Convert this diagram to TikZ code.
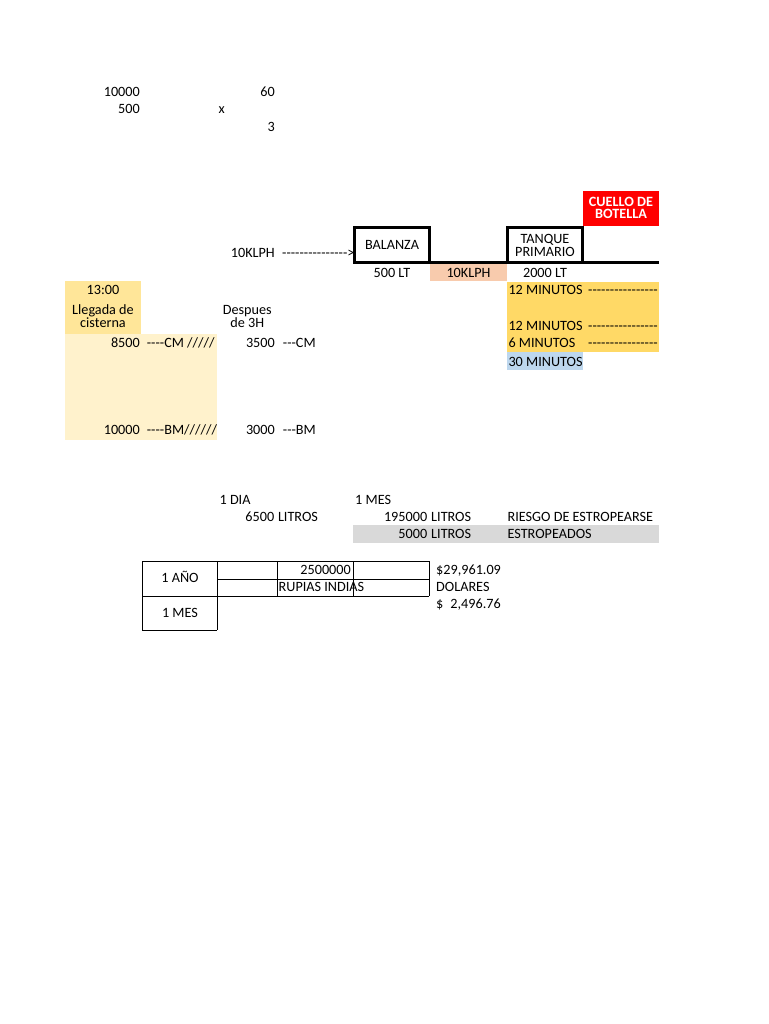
\documentclass[tikz,border=0pt]{standalone}
\usepackage{fontspec}
\setmainfont{Carlito}[Ligatures=TeXOff]
\usepackage{xcolor}
\definecolor{cisternatop}{HTML}{FFE699}
\definecolor{cisternabody}{HTML}{FFF2CC}
\definecolor{minutosfill}{HTML}{FFD966}
\definecolor{treintafill}{HTML}{BDD7EE}
\definecolor{caudalfill}{HTML}{F8CBAD}
\definecolor{perdidafill}{HTML}{D9D9D9}
\definecolor{cuellofill}{HTML}{FF0000}

\begin{document}
\begin{tikzpicture}[x=1pt, y=-1pt,
  cell/.style={inner sep=0pt, yshift=-4.6pt, font=\fontsize{14.2}{16}\selectfont},
  lcell/.style={cell, anchor=base west},
  rcell/.style={cell, anchor=base east},
  ccell/.style={cell, anchor=base},
  equipo/.style={draw, line width=2.6pt, outer sep=0pt, inner sep=0pt, minimum width=75pt, minimum height=35pt, align=center, font=\fontsize{14.2}{12.9}\selectfont},
  gridline/.style={line width=0.9pt}]
\useasboundingbox (0,0) rectangle (768,1024);

\fill[cisternatop] (65,281) rectangle (141,334);
\fill[cisternabody] (65,334) rectangle (217,440);
\fill[minutosfill] (507,282) rectangle (659,352);
\fill[treintafill] (507,352) rectangle (583,370);
\fill[caudalfill] (430,264) rectangle (507,281);
\fill[perdidafill] (353,525) rectangle (659,543);
\fill[cuellofill] (583,191) rectangle (659,226);

\node[rcell] (a1) at (140,91.7) {10000};
\node[rcell] (a2) at (140,109.3) {500};
\node[rcell] (b1) at (275,91.7) {60};
\node[ccell] (bx) at (221.7,109.3) {x};
\node[rcell] (b3) at (275,127.3) {3};

\node[ccell, text=white, font=\fontsize{14.2}{16}\bfseries] (cuello1) at (621,201.7) {CUELLO DE};
\node[ccell, text=white, font=\fontsize{14.2}{16}\bfseries] (cuello2) at (621,214.3) {BOTELLA};

\node[equipo] (balanza) at (392,245) {BALANZA};
\node[equipo] (tanque) at (545,245) {TANQUE\\PRIMARIO};
\coordinate (fin) at (659,262.5);
\draw[line width=2.6pt] (balanza.south east) -- (tanque.south west);
\draw[line width=2.6pt] (tanque.south east) -- (fin);

\node[rcell] (entrada) at (275,253.3) {10KLPH};
\node[lcell] (flecha) at (282,253.3) {--------------->};

\node[ccell] (capbal) at (392,272.7) {500 LT};
\node[ccell] (caudal) at (468.5,272.7) {10KLPH};
\node[ccell] (captan) at (545,272.7) {2000 LT};

\node[ccell] (hora) at (103,290) {13:00};
\node[ccell] (llegada1) at (103,310) {Llegada de};
\node[ccell] (llegada2) at (103,322.7) {cisterna};
\node[ccell] (despues1) at (247.3,310) {Despues};
\node[ccell] (despues2) at (247.3,323) {de 3H};

\node[lcell] (min1) at (508.3,290) {12 MINUTOS};
\node[lcell] (raya1) at (588,290) {----------------};
\node[lcell] (min2) at (508.3,325.7) {12 MINUTOS};
\node[lcell] (raya2) at (588,325.7) {----------------};
\node[lcell] (min3) at (508.3,343.3) {6 MINUTOS};
\node[lcell] (raya3) at (588,343.3) {----------------};
\node[lcell] (min4) at (508.3,361.7) {30 MINUTOS};

\node[rcell] (cm1) at (140,343.3) {8500};
\node[lcell] (cm2) at (146.7,343.3) {----CM /////};
\node[rcell] (cm3) at (275,343.3) {3500};
\node[lcell] (cm4) at (282.7,343.3) {---CM};
\node[rcell] (bm1) at (140,430) {10000};
\node[lcell] (bm2) at (146.7,430) {----BM//////};
\node[rcell] (bm3) at (275,430) {3000};
\node[lcell] (bm4) at (282.7,430) {---BM};

\node[lcell] (dia) at (219.4,499.5) {1 DIA};
\node[lcell] (mes) at (355,499.5) {1 MES};
\node[rcell] (litdia) at (274.4,517) {6500};
\node[lcell] (litdiau) at (277.8,517) {LITROS};
\node[rcell] (litmes) at (427.4,517) {195000};
\node[lcell] (litmesu) at (431,517) {LITROS};
\node[lcell] (riesgo) at (507.4,517) {RIESGO DE ESTROPEARSE};
\node[rcell] (perd) at (427.4,534) {5000};
\node[lcell] (perdu) at (431,534) {LITROS};
\node[lcell] (estrop) at (507.4,534) {ESTROPEADOS};

\draw[gridline] (142,561) -- (429,561);
\draw[gridline] (217,579) -- (429,579);
\draw[gridline] (142,596) -- (429,596);
\draw[gridline] (142,630) -- (217,630);
\draw[gridline] (142,561) -- (142,630);
\draw[gridline] (217,561) -- (217,630);
\draw[gridline] (277,561) -- (277,596);
\draw[gridline] (353,561) -- (353,596);
\draw[gridline] (429,561) -- (429,596);

\node[ccell] (anio) at (180,578) {1 AÑO};
\node[ccell] (mesb) at (180,613) {1 MES};
\node[rcell] (rupias) at (351,569.5) {2500000};
\node[lcell] (rupiasu) at (278.5,587) {RUPIAS INDIAS};
\node[lcell] (dolar1) at (436,569.5) {\$29,961.09};
\node[lcell] (dolaru) at (436,587) {DOLARES};
\node[lcell] (dolar2s) at (436,604) {\$};
\node[rcell] (dolar2) at (501,604) {2,496.76};

\end{tikzpicture}
\end{document}
